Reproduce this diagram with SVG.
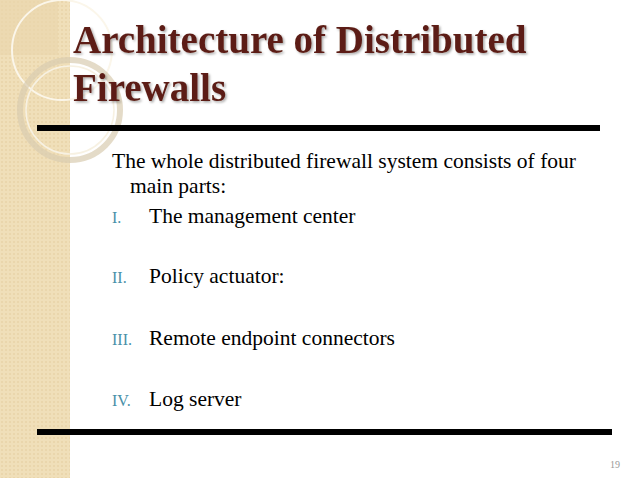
<svg xmlns="http://www.w3.org/2000/svg" width="638" height="478" viewBox="0 0 638 478">
<defs>
<pattern id="dots" width="4" height="4" patternUnits="userSpaceOnUse"><rect width="4" height="4" fill="#f0dfb9"/><circle cx="2" cy="2" r="0.8" fill="#e4cc9c"/></pattern>
<filter id="sh" x="-5%" y="-5%" width="110%" height="120%"><feDropShadow dx="1.5" dy="1.5" stdDeviation="1" flood-color="#000" flood-opacity="0.35"/></filter>
</defs>
<style>
.t{font-family:"Liberation Serif",serif;font-weight:bold;font-size:39px;fill:#5c1f15}
.b{font-family:"Liberation Serif",serif;font-size:21.5px;fill:#000}
.n{font-family:"Liberation Serif",serif;font-size:16px;fill:#4a90a8}
</style>
<rect width="638" height="478" fill="#fff"/>
<g id="strip">
<rect width="70" height="478" fill="url(#dots)"/>
<rect x="0" y="0" width="58" height="55" fill="#e9d6ab" opacity="0.6"/>
<circle cx="62" cy="50" r="50" fill="none" stroke="#fbf6ea" stroke-width="2"/>
<circle cx="70" cy="110" r="50" fill="none" stroke="#d9ccb0" stroke-width="6" opacity="0.7"/>
<circle cx="70" cy="110" r="44" fill="none" stroke="#f7f1e2" stroke-width="1.5"/>
</g>
<g id="title" filter="url(#sh)">
<text class="t" x="73" y="53">Architecture of Distributed</text>
<text class="t" x="73" y="101">Firewalls</text>
</g>
<rect x="37" y="125" width="563" height="6" fill="#000"/>
<g id="body">
<text class="b" x="112" y="168">The whole distributed firewall system consists of four</text>
<text class="b" x="130" y="193">main parts:</text>
<text class="n" x="112" y="223">I.</text><text class="b" x="149" y="223">The management center</text>
<text class="n" x="112" y="283">II.</text><text class="b" x="149" y="283">Policy actuator:</text>
<text class="n" x="112" y="345">III.</text><text class="b" x="149" y="345">Remote endpoint connectors</text>
<text class="n" x="112" y="406">IV.</text><text class="b" x="149" y="406">Log server</text>
</g>
<rect x="37" y="429" width="575" height="6" fill="#000"/>
<text x="610" y="468" font-family="Liberation Serif,serif" font-size="10" fill="#999">19</text>
</svg>
